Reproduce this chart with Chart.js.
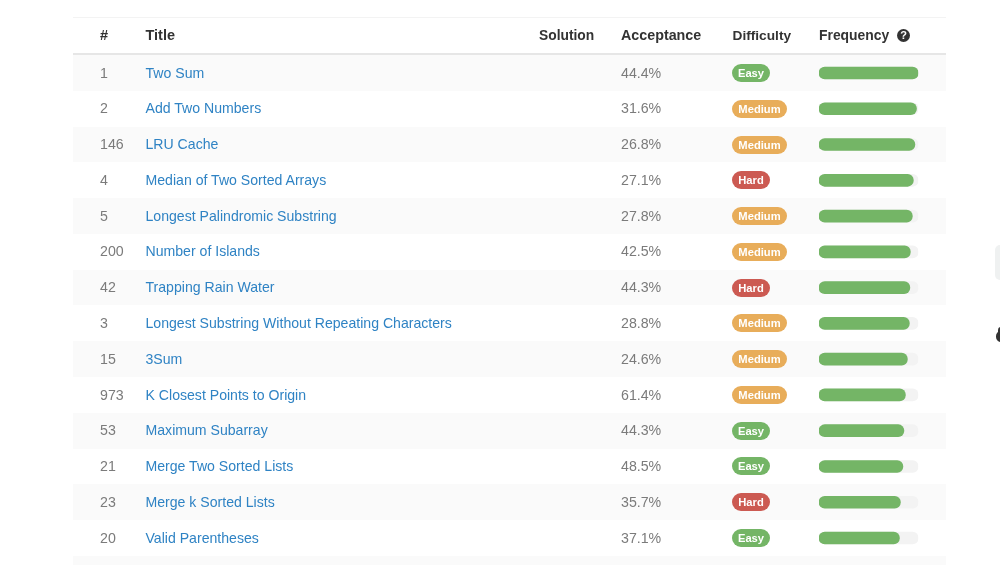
<!DOCTYPE html>
<html><head><meta charset="utf-8">
<script src="https://cdn.jsdelivr.net/npm/chart.js@4"></script>
<style>
html,body{margin:0;padding:0;width:1000px;height:565px;overflow:hidden;background:#fff;font-family:"Liberation Sans",Arial,sans-serif}
#page{position:absolute;left:0;top:0;width:1000px;height:565px;overflow:hidden}
#c{position:absolute;left:0;top:0;z-index:2}
.abs{position:absolute;white-space:nowrap}
.stripe{position:absolute;left:73px;width:873px;background:#fafafa}
.th{position:absolute;top:26px;font-weight:700;line-height:18px;color:#333;white-space:nowrap;z-index:3}
.cell{position:absolute;font-size:14.2px;line-height:20px;color:#7b7b7b;white-space:nowrap;z-index:3}
.link{font-size:14.1px;color:#2f83c4}
.badge{position:absolute;left:732px;height:18px;line-height:18px;border-radius:9px;color:#fff;font-weight:700;font-size:11.2px;text-align:center;z-index:3}
#q{position:absolute;left:897px;top:29px;width:13px;height:13px;border-radius:50%;background:#333;color:#fff;font-size:11px;font-weight:700;line-height:13px;text-align:center;z-index:3}
</style></head>
<body><div id="page">
<div class="abs" style="left:73px;width:873px;top:17px;height:1px;background:#f3f3f3"></div>
<div class="abs" style="left:73px;width:873px;top:53px;height:2px;background:#e6e6e6"></div>
<div id="rows"></div>
<div class="abs" style="left:994.5px;top:245px;width:12px;height:35px;background:#eff1f1;border-radius:5px"></div>
<div class="abs" style="left:995.5px;top:331px;width:10px;height:11px;background:#333;border-radius:5px"></div>
<div class="abs" style="left:998px;top:327px;width:6px;height:8px;background:#333;border-radius:3px"></div>
<div class="th" style="left:100px;font-size:14.5px">#</div>
<div class="th" style="left:145.5px;font-size:14.5px">Title</div>
<div class="th" style="left:539px;top:27px;font-size:13.8px">Solution</div>
<div class="th" style="left:621px;font-size:14.3px">Acceptance</div>
<div class="th" style="left:732.5px;top:27px;font-size:13.7px">Difficulty</div>
<div class="th" style="left:819px;font-size:13.9px">Frequency</div>
<div id="q">?</div>
<canvas id="c" width="1000" height="565"></canvas>
</div>
<script>
const ids = [1, 2, 146, 4, 5, 200, 42, 3, 15, 973, 53, 21, 23, 20];
const titles = ["Two Sum","Add Two Numbers","LRU Cache","Median of Two Sorted Arrays","Longest Palindromic Substring","Number of Islands","Trapping Rain Water","Longest Substring Without Repeating Characters","3Sum","K Closest Points to Origin","Maximum Subarray","Merge Two Sorted Lists","Merge k Sorted Lists","Valid Parentheses"];
const acceptance = [44.4, 31.6, 26.8, 27.1, 27.8, 42.5, 44.3, 28.8, 24.6, 61.4, 44.3, 48.5, 35.7, 37.1];
const difficulty = ["Easy","Medium","Medium","Hard","Medium","Medium","Hard","Medium","Medium","Medium","Easy","Easy","Hard","Easy"];
const frequency = [100, 98.2, 96.6, 95, 94, 92, 91.5, 91, 89, 87, 85.5, 84.5, 82, 81];
const track = [100,100,100,100,100,100,100,100,100,100,100,100,100,100];

const badgeColor = {Easy:"#74b566", Medium:"#e8ad5a", Hard:"#cc5a52"};
const badgeWidth = {Easy:38, Medium:55, Hard:38};

const chart = new Chart(document.getElementById("c"), {
  type: "bar",
  data: {
    labels: titles,
    datasets: [
      {label:"Frequency", data:frequency, backgroundColor:"#74b566", borderRadius:12, borderSkipped:false, barThickness:12, grouped:false, order:1},
      {label:"Track", data:track, backgroundColor:"#f3f3f3", borderRadius:12, borderSkipped:false, barThickness:12, grouped:false, order:2}
    ]
  },
  options: {
    indexAxis: "y",
    responsive: false,
    animation: false,
    layout: {padding:{left:819, right:81.7, top:55.1, bottom:9.1}},
    plugins: {legend:{display:false}, tooltip:{enabled:false}},
    scales: {
      x: {display:false, min:0, max:100},
      y: {display:false}
    }
  }
});

const rows = document.getElementById("rows");
const ys = chart.scales.y;
const rowH = ys.getPixelForValue(1) - ys.getPixelForValue(0);
function add(cls, text, left, cy, h, extra){
  const d = document.createElement("div");
  d.className = cls; d.textContent = text;
  d.style.left = left + "px";
  d.style.top = (cy - h/2) + "px";
  if (extra) Object.assign(d.style, extra);
  rows.appendChild(d);
}
titles.forEach((t,i)=>{
  const cy = ys.getPixelForValue(i);
  if (i % 2 === 0) {
    const s = document.createElement("div");
    s.className = "stripe";
    s.style.top = (cy - rowH/2) + "px";
    s.style.height = rowH + "px";
    rows.appendChild(s);
  }
  add("cell", String(ids[i]), 100, cy-0.4, 20);
  add("cell link", t, 145.5, cy-0.4, 20);
  add("cell", acceptance[i].toFixed(1) + "%", 621, cy-0.4, 20);
  add("badge", difficulty[i], 732, cy, 18, {width:badgeWidth[difficulty[i]]+"px", background:badgeColor[difficulty[i]]});
});
const last = document.createElement("div");
last.className = "stripe";
last.style.top = (ys.getPixelForValue(titles.length-1) + rowH/2) + "px";
last.style.height = rowH + "px";
rows.appendChild(last);
</script>
</body></html>
